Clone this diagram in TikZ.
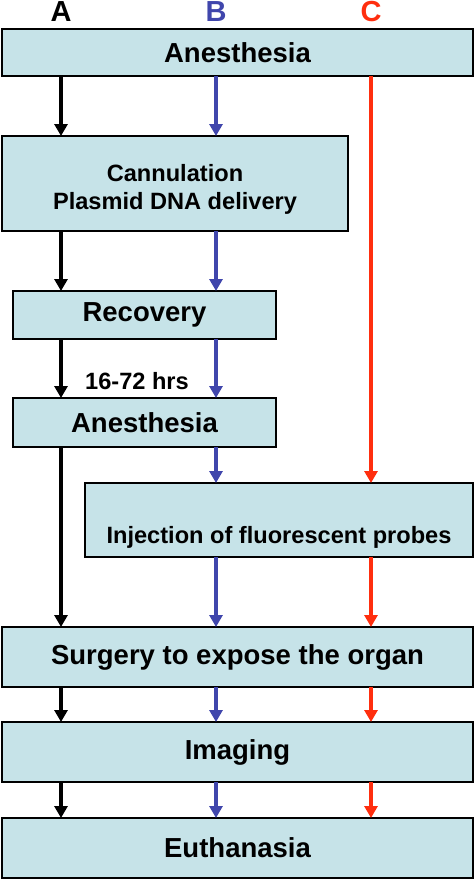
\documentclass[tikz,border=0pt]{standalone}
\usepackage{fontspec}
\setmainfont{Liberation Sans}
\usetikzlibrary{arrows.meta}

\definecolor{boxfill}{RGB}{198,227,232}
\definecolor{routeB}{RGB}{64,70,172}
\definecolor{routeC}{RGB}{255,46,14}

\tikzset{
  stepbox/.style={draw, line width=2pt, fill=boxfill, inner sep=0pt, outer sep=0pt,
    align=center, font=\bfseries\fontsize{27.5}{33}\selectfont},
  smalltxt/.style={font=\bfseries\fontsize{23.6}{28}\selectfont},
  flow/.style={line width=3.5pt, -{Triangle[width=13pt,length=12pt]}},
}

\begin{document}
\begin{tikzpicture}[x=1pt,y=-1pt]
  \useasboundingbox (0,0) rectangle (474,879);

  % route labels
  \node[font=\bfseries\fontsize{29}{33}\selectfont]                (lblA) at (61,12)  {A};
  \node[font=\bfseries\fontsize{29}{33}\selectfont, text=routeB]   (lblB) at (216,12) {B};
  \node[font=\bfseries\fontsize{29}{33}\selectfont, text=routeC]   (lblC) at (371,12) {C};

  % steps
  \node[stepbox, minimum width=471pt, minimum height=47pt] (anes)   at (237.5,52.5) {Anesthesia};
  \node[stepbox, smalltxt, minimum width=346pt, minimum height=95pt] (cann) at (175,183.5)
    {\rule{0pt}{28pt}Cannulation\\Plasmid DNA delivery};
  \node[stepbox, minimum width=263pt, minimum height=48pt] (recov)  at (144.5,315) {Recovery};
  \node[smalltxt] (hrs) at (137,381) {16-72 hrs};
  \node[stepbox, minimum width=263pt, minimum height=49pt] (anesB)  at (144.5,422.5) {Anesthesia};
  \node[stepbox, smalltxt, minimum width=388pt, minimum height=74pt,
        text height=51pt, text depth=5pt] (inject) at (279,520) {Injection of fluorescent probes};
  \node[stepbox, minimum width=471pt, minimum height=60pt] (surg)   at (237.5,657) {Surgery to expose the organ};
  \node[stepbox, minimum width=471pt, minimum height=60pt] (img)    at (237.5,752) {Imaging};
  \node[stepbox, minimum width=471pt, minimum height=60pt] (euth)   at (237.5,848) {Euthanasia};

  % route A
  \draw[flow] (anes.south -| lblA)  -- (cann.north -| lblA);
  \draw[flow] (cann.south -| lblA)  -- (recov.north -| lblA);
  \draw[flow] (recov.south -| lblA) -- (anesB.north -| lblA);
  \draw[flow] (anesB.south -| lblA) -- (surg.north -| lblA);
  \draw[flow] (surg.south -| lblA)  -- (img.north -| lblA);
  \draw[flow] (img.south -| lblA)   -- (euth.north -| lblA);

  % route B
  \draw[flow, routeB] (anes.south -| lblB)   -- (cann.north -| lblB);
  \draw[flow, routeB] (cann.south -| lblB)   -- (recov.north -| lblB);
  \draw[flow, routeB] (recov.south -| lblB)  -- (anesB.north -| lblB);
  \draw[flow, routeB] (anesB.south -| lblB)  -- (inject.north -| lblB);
  \draw[flow, routeB] (inject.south -| lblB) -- (surg.north -| lblB);
  \draw[flow, routeB] (surg.south -| lblB)   -- (img.north -| lblB);
  \draw[flow, routeB] (img.south -| lblB)    -- (euth.north -| lblB);

  % route C
  \draw[flow, routeC] (anes.south -| lblC)   -- (inject.north -| lblC);
  \draw[flow, routeC] (inject.south -| lblC) -- (surg.north -| lblC);
  \draw[flow, routeC] (surg.south -| lblC)   -- (img.north -| lblC);
  \draw[flow, routeC] (img.south -| lblC)    -- (euth.north -| lblC);
\end{tikzpicture}
\end{document}
